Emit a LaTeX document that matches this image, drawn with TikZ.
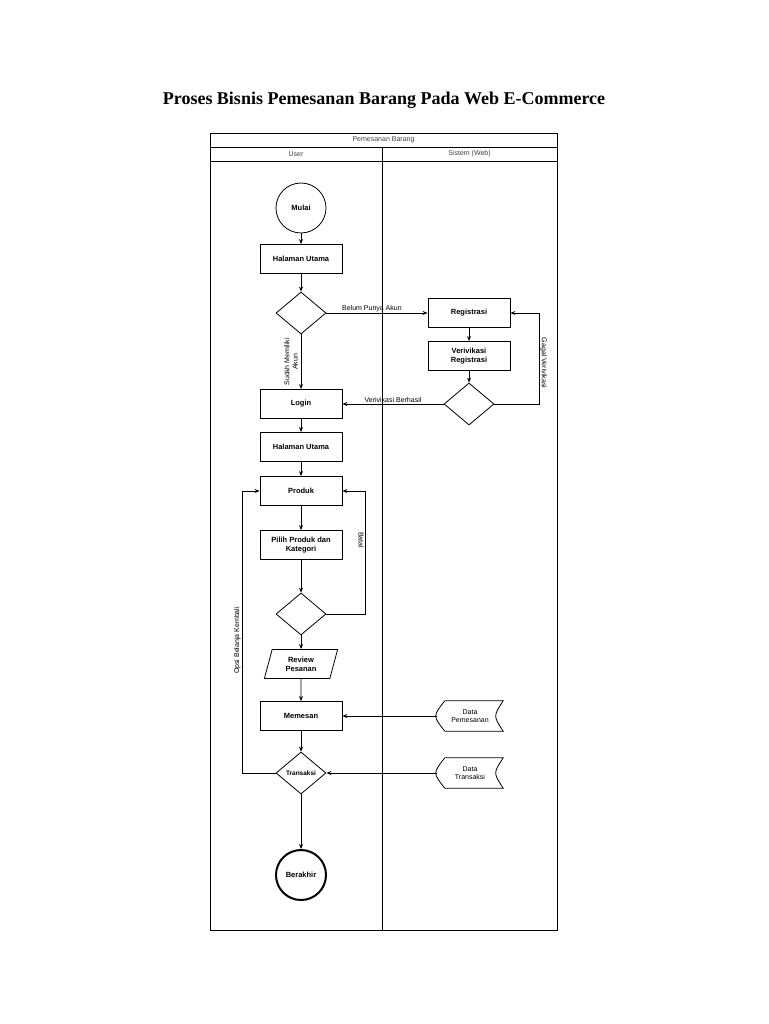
\documentclass[tikz,border=0pt]{standalone}
\usepackage{fontspec}
\setmainfont{Liberation Sans}
\newfontfamily\titlefont{Liberation Serif}
\usetikzlibrary{shapes.geometric,arrows.meta}
\begin{document}
\begin{tikzpicture}[x=1pt,y=-1pt,
  box/.style={draw,thick,minimum width=82pt,minimum height=29pt,align=center,font=\fontsize{7.5}{9}\selectfont\bfseries,inner sep=1pt},
  dec/.style={draw,thick,diamond,minimum width=50pt,minimum height=42pt,inner sep=0pt,font=\fontsize{6.5}{8}\selectfont\bfseries},
  term/.style={draw,thick,circle,minimum size=50pt,font=\fontsize{7.5}{9}\selectfont\bfseries},
  para/.style={draw,thick,trapezium,trapezium left angle=75,trapezium right angle=105,minimum width=64pt,minimum height=29pt,align=center,font=\fontsize{7.5}{9}\selectfont\bfseries,inner sep=1pt},
  data/.style={minimum width=66pt,minimum height=30pt,align=center,font=\fontsize{7}{8.5}\selectfont},
  lab/.style={font=\fontsize{7}{8.5}\selectfont,inner sep=1pt},
  arr/.style={thick,-{Stealth[length=5pt,width=4pt]}},
  hdr/.style={font=\fontsize{7}{8.5}\selectfont,text=black!75}]
\useasboundingbox (0,0) rectangle (768,1024);
\node[font=\titlefont\fontsize{18}{20}\selectfont\bfseries] (title) at (384,100) {Proses Bisnis Pemesanan Barang Pada Web E-Commerce};
% pool
\draw[thick] (210,133) rectangle (557,930);
\draw[thick] (210,147) -- (557,147);
\draw[thick] (210,161) -- (557,161);
\draw[thick] (382,147) -- (382,930);
\node[hdr] (pool) at (383.5,140) {Pemesanan Barang};
\node[hdr] (lane1) at (296,154) {User};
\node[hdr] (lane2) at (469.5,154) {Sistem (Web)};
% nodes
\node[term] (mulai) at (301,208) {Mulai};
\node[box] (hu1) at (301,259) {Halaman Utama};
\node[dec] (d1) at (301,313) {};
\node[box] (reg) at (469,313) {Registrasi};
\node[box] (ver) at (469,356) {Verivikasi\\Registrasi};
\node[dec] (d2) at (469,404) {};
\node[box] (login) at (301,404) {Login};
\node[box] (hu2) at (301,447) {Halaman Utama};
\node[box] (prod) at (301,491) {Produk};
\node[box] (pilih) at (301,545) {Pilih Produk dan\\Kategori};
\node[dec] (d3) at (301,614) {};
\node[para] (rev) at (301,664) {Review\\Pesanan};
\node[box] (mem) at (301,716) {Memesan};
\node[dec] (trx) at (301,773) {Transaksi};
\node[term,line width=2pt] (end) at (301,875) {Berakhir};
\node[data] (dp) at (470,716) {Data\\Pemesanan};
\node[data] (dt) at (470,773) {Data\\Transaksi};
\foreach \n in {dp,dt}{
  \draw[thick] ([xshift=8pt]\n.north west) -- (\n.north east)
    .. controls ([xshift=-10pt]\n.east) .. (\n.south east)
    -- ([xshift=8pt]\n.south west)
    .. controls ([xshift=-4pt]\n.west) .. ([xshift=8pt]\n.north west);
}
% connectors
\draw[arr] (mulai) -- (hu1);
\draw[arr] (hu1) -- (d1);
\draw[arr] (d1) -- node[lab,above,pos=0.45]{Belum Punya Akun} (reg);
\draw[arr] (d1) -- node[lab,left,rotate=90,anchor=south,xshift=0pt,yshift=2pt]{\shortstack{Sudah Memiliki\\Akun}} (login);
\draw[arr] (reg) -- (ver);
\draw[arr] (ver) -- (d2);
\draw[arr] (d2) -- node[lab,above,pos=0.5]{Verivikasi Berhasil} (login);
\coordinate (g1) at (539,404);
\coordinate (g2) at (539,313);
\draw[arr] (d2.east) -- (g1) -- node[lab,rotate=-90,above,pos=0.45]{Gagal Verivikasi} (g2) -- (reg.east);
\draw[arr] (login) -- (hu2);
\draw[arr] (hu2) -- (prod);
\draw[arr] (prod) -- (pilih);
\draw[arr] (pilih) -- (d3);
\coordinate (b1) at (365,614);
\coordinate (b2) at (365,491);
\draw[arr] (d3.east) -- (b1) -- node[lab,rotate=-90,below,pos=0.6]{Batal} (b2) -- (prod.east);
\draw[arr] (d3) -- (rev);
\draw[arr] (rev) -- (mem);
\draw[arr] (mem) -- (trx);
\draw[arr] (dp) -- (mem);
\draw[arr] (dt) -- (trx);
\coordinate (o1) at (242,773);
\coordinate (o2) at (242,491);
\draw[arr] (trx.west) -- (o1) -- node[lab,rotate=90,above,pos=0.47]{Opsi Belanja Kembali} (o2) -- (prod.west);
\draw[arr] (trx) -- (end);
\end{tikzpicture}
\end{document}
